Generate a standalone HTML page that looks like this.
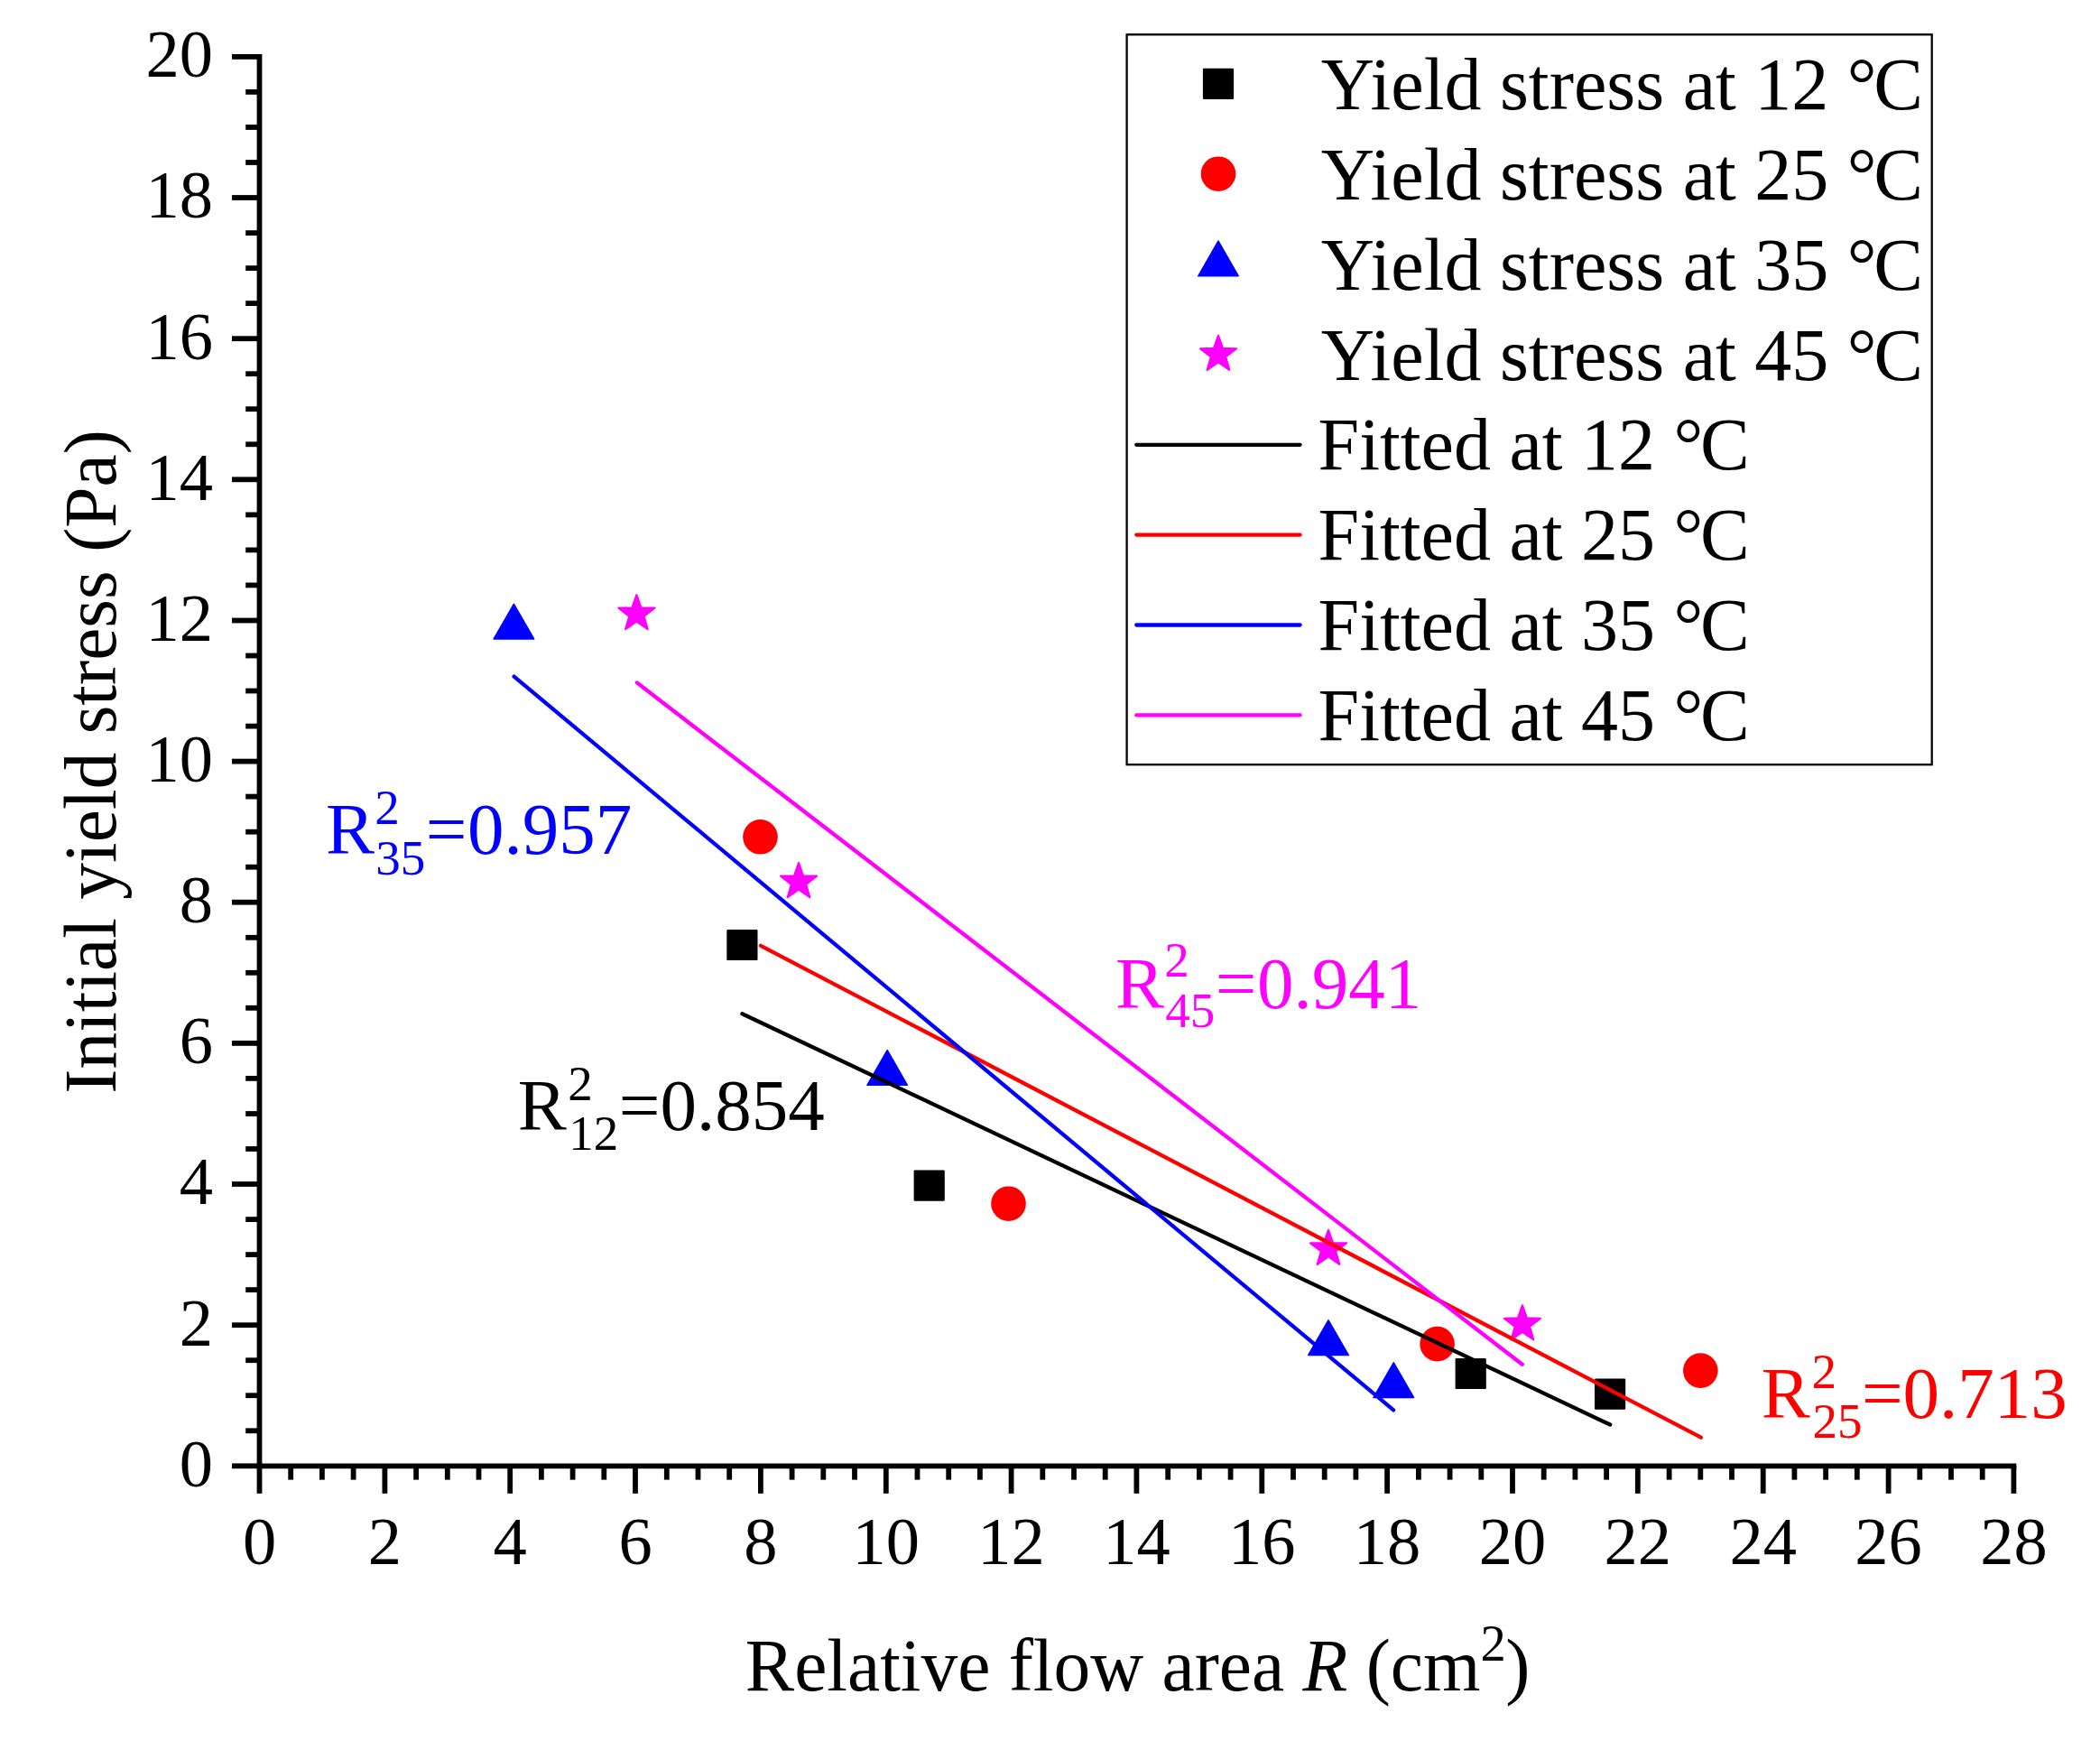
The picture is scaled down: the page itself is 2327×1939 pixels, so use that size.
<!DOCTYPE html><html><head><meta charset="utf-8"><title>Yield stress vs relative flow area</title>
<style>html,body{margin:0;padding:0;background:#fff}svg{display:block}text{font-family:"Liberation Serif",serif}</style></head><body>
<svg width="2327" height="1939" viewBox="0 0 2327 1939">
<rect width="2327" height="1939" fill="#fff"/>
<g stroke="#000" stroke-width="5.8" fill="none">
<line x1="287.5" y1="60.0" x2="287.5" y2="1627.2"/>
<line x1="284.6" y1="1624.3" x2="2234.3" y2="1624.3"/>
<line x1="287.5" y1="1624.3" x2="287.5" y2="1654.8"/>
<line x1="322.2" y1="1624.3" x2="322.2" y2="1639.6"/>
<line x1="356.9" y1="1624.3" x2="356.9" y2="1639.6"/>
<line x1="391.6" y1="1624.3" x2="391.6" y2="1639.6"/>
<line x1="426.4" y1="1624.3" x2="426.4" y2="1654.8"/>
<line x1="461.1" y1="1624.3" x2="461.1" y2="1639.6"/>
<line x1="495.8" y1="1624.3" x2="495.8" y2="1639.6"/>
<line x1="530.5" y1="1624.3" x2="530.5" y2="1639.6"/>
<line x1="565.2" y1="1624.3" x2="565.2" y2="1654.8"/>
<line x1="599.9" y1="1624.3" x2="599.9" y2="1639.6"/>
<line x1="634.6" y1="1624.3" x2="634.6" y2="1639.6"/>
<line x1="669.3" y1="1624.3" x2="669.3" y2="1639.6"/>
<line x1="704.0" y1="1624.3" x2="704.0" y2="1654.8"/>
<line x1="738.8" y1="1624.3" x2="738.8" y2="1639.6"/>
<line x1="773.5" y1="1624.3" x2="773.5" y2="1639.6"/>
<line x1="808.2" y1="1624.3" x2="808.2" y2="1639.6"/>
<line x1="842.9" y1="1624.3" x2="842.9" y2="1654.8"/>
<line x1="877.6" y1="1624.3" x2="877.6" y2="1639.6"/>
<line x1="912.3" y1="1624.3" x2="912.3" y2="1639.6"/>
<line x1="947.0" y1="1624.3" x2="947.0" y2="1639.6"/>
<line x1="981.8" y1="1624.3" x2="981.8" y2="1654.8"/>
<line x1="1016.5" y1="1624.3" x2="1016.5" y2="1639.6"/>
<line x1="1051.2" y1="1624.3" x2="1051.2" y2="1639.6"/>
<line x1="1085.9" y1="1624.3" x2="1085.9" y2="1639.6"/>
<line x1="1120.6" y1="1624.3" x2="1120.6" y2="1654.8"/>
<line x1="1155.3" y1="1624.3" x2="1155.3" y2="1639.6"/>
<line x1="1190.0" y1="1624.3" x2="1190.0" y2="1639.6"/>
<line x1="1224.7" y1="1624.3" x2="1224.7" y2="1639.6"/>
<line x1="1259.4" y1="1624.3" x2="1259.4" y2="1654.8"/>
<line x1="1294.2" y1="1624.3" x2="1294.2" y2="1639.6"/>
<line x1="1328.9" y1="1624.3" x2="1328.9" y2="1639.6"/>
<line x1="1363.6" y1="1624.3" x2="1363.6" y2="1639.6"/>
<line x1="1398.3" y1="1624.3" x2="1398.3" y2="1654.8"/>
<line x1="1433.0" y1="1624.3" x2="1433.0" y2="1639.6"/>
<line x1="1467.7" y1="1624.3" x2="1467.7" y2="1639.6"/>
<line x1="1502.4" y1="1624.3" x2="1502.4" y2="1639.6"/>
<line x1="1537.1" y1="1624.3" x2="1537.1" y2="1654.8"/>
<line x1="1571.9" y1="1624.3" x2="1571.9" y2="1639.6"/>
<line x1="1606.6" y1="1624.3" x2="1606.6" y2="1639.6"/>
<line x1="1641.3" y1="1624.3" x2="1641.3" y2="1639.6"/>
<line x1="1676.0" y1="1624.3" x2="1676.0" y2="1654.8"/>
<line x1="1710.7" y1="1624.3" x2="1710.7" y2="1639.6"/>
<line x1="1745.4" y1="1624.3" x2="1745.4" y2="1639.6"/>
<line x1="1780.1" y1="1624.3" x2="1780.1" y2="1639.6"/>
<line x1="1814.8" y1="1624.3" x2="1814.8" y2="1654.8"/>
<line x1="1849.6" y1="1624.3" x2="1849.6" y2="1639.6"/>
<line x1="1884.3" y1="1624.3" x2="1884.3" y2="1639.6"/>
<line x1="1919.0" y1="1624.3" x2="1919.0" y2="1639.6"/>
<line x1="1953.7" y1="1624.3" x2="1953.7" y2="1654.8"/>
<line x1="1988.4" y1="1624.3" x2="1988.4" y2="1639.6"/>
<line x1="2023.1" y1="1624.3" x2="2023.1" y2="1639.6"/>
<line x1="2057.8" y1="1624.3" x2="2057.8" y2="1639.6"/>
<line x1="2092.6" y1="1624.3" x2="2092.6" y2="1654.8"/>
<line x1="2127.3" y1="1624.3" x2="2127.3" y2="1639.6"/>
<line x1="2162.0" y1="1624.3" x2="2162.0" y2="1639.6"/>
<line x1="2196.7" y1="1624.3" x2="2196.7" y2="1639.6"/>
<line x1="2231.4" y1="1624.3" x2="2231.4" y2="1654.8"/>
<line x1="287.5" y1="1624.3" x2="257.0" y2="1624.3"/>
<line x1="287.5" y1="1585.3" x2="272.2" y2="1585.3"/>
<line x1="287.5" y1="1546.2" x2="272.2" y2="1546.2"/>
<line x1="287.5" y1="1507.2" x2="272.2" y2="1507.2"/>
<line x1="287.5" y1="1468.2" x2="257.0" y2="1468.2"/>
<line x1="287.5" y1="1429.1" x2="272.2" y2="1429.1"/>
<line x1="287.5" y1="1390.1" x2="272.2" y2="1390.1"/>
<line x1="287.5" y1="1351.1" x2="272.2" y2="1351.1"/>
<line x1="287.5" y1="1312.0" x2="257.0" y2="1312.0"/>
<line x1="287.5" y1="1273.0" x2="272.2" y2="1273.0"/>
<line x1="287.5" y1="1234.0" x2="272.2" y2="1234.0"/>
<line x1="287.5" y1="1194.9" x2="272.2" y2="1194.9"/>
<line x1="287.5" y1="1155.9" x2="257.0" y2="1155.9"/>
<line x1="287.5" y1="1116.8" x2="272.2" y2="1116.8"/>
<line x1="287.5" y1="1077.8" x2="272.2" y2="1077.8"/>
<line x1="287.5" y1="1038.8" x2="272.2" y2="1038.8"/>
<line x1="287.5" y1="999.7" x2="257.0" y2="999.7"/>
<line x1="287.5" y1="960.7" x2="272.2" y2="960.7"/>
<line x1="287.5" y1="921.7" x2="272.2" y2="921.7"/>
<line x1="287.5" y1="882.6" x2="272.2" y2="882.6"/>
<line x1="287.5" y1="843.6" x2="257.0" y2="843.6"/>
<line x1="287.5" y1="804.6" x2="272.2" y2="804.6"/>
<line x1="287.5" y1="765.5" x2="272.2" y2="765.5"/>
<line x1="287.5" y1="726.5" x2="272.2" y2="726.5"/>
<line x1="287.5" y1="687.5" x2="257.0" y2="687.5"/>
<line x1="287.5" y1="648.4" x2="272.2" y2="648.4"/>
<line x1="287.5" y1="609.4" x2="272.2" y2="609.4"/>
<line x1="287.5" y1="570.4" x2="272.2" y2="570.4"/>
<line x1="287.5" y1="531.3" x2="257.0" y2="531.3"/>
<line x1="287.5" y1="492.3" x2="272.2" y2="492.3"/>
<line x1="287.5" y1="453.2" x2="272.2" y2="453.2"/>
<line x1="287.5" y1="414.2" x2="272.2" y2="414.2"/>
<line x1="287.5" y1="375.2" x2="257.0" y2="375.2"/>
<line x1="287.5" y1="336.1" x2="272.2" y2="336.1"/>
<line x1="287.5" y1="297.1" x2="272.2" y2="297.1"/>
<line x1="287.5" y1="258.1" x2="272.2" y2="258.1"/>
<line x1="287.5" y1="219.0" x2="257.0" y2="219.0"/>
<line x1="287.5" y1="180.0" x2="272.2" y2="180.0"/>
<line x1="287.5" y1="141.0" x2="272.2" y2="141.0"/>
<line x1="287.5" y1="101.9" x2="272.2" y2="101.9"/>
<line x1="287.5" y1="62.9" x2="257.0" y2="62.9"/>
</g>
<g font-size="74.5" fill="#000">
<text x="287.5" y="1732.7" text-anchor="middle">0</text>
<text x="426.4" y="1732.7" text-anchor="middle">2</text>
<text x="565.2" y="1732.7" text-anchor="middle">4</text>
<text x="704.0" y="1732.7" text-anchor="middle">6</text>
<text x="842.9" y="1732.7" text-anchor="middle">8</text>
<text x="981.8" y="1732.7" text-anchor="middle">10</text>
<text x="1120.6" y="1732.7" text-anchor="middle">12</text>
<text x="1259.4" y="1732.7" text-anchor="middle">14</text>
<text x="1398.3" y="1732.7" text-anchor="middle">16</text>
<text x="1537.1" y="1732.7" text-anchor="middle">18</text>
<text x="1676.0" y="1732.7" text-anchor="middle">20</text>
<text x="1814.8" y="1732.7" text-anchor="middle">22</text>
<text x="1953.7" y="1732.7" text-anchor="middle">24</text>
<text x="2092.6" y="1732.7" text-anchor="middle">26</text>
<text x="2231.4" y="1732.7" text-anchor="middle">28</text>
<text x="236" y="1646.7" text-anchor="end">0</text>
<text x="236" y="1490.6" text-anchor="end">2</text>
<text x="236" y="1334.4" text-anchor="end">4</text>
<text x="236" y="1178.3" text-anchor="end">6</text>
<text x="236" y="1022.1" text-anchor="end">8</text>
<text x="236" y="866.0" text-anchor="end">10</text>
<text x="236" y="709.9" text-anchor="end">12</text>
<text x="236" y="553.7" text-anchor="end">14</text>
<text x="236" y="397.6" text-anchor="end">16</text>
<text x="236" y="241.4" text-anchor="end">18</text>
<text x="236" y="85.3" text-anchor="end">20</text>
</g>
<text x="825.8" y="1873.2" font-size="81.5" fill="#000">Relative flow area <tspan font-style="italic">R</tspan> (cm<tspan font-size="56.5" dy="-33.3">2</tspan><tspan dx="-0.5" dy="33.3">)</tspan></text>
<text transform="translate(127.9 1211.7) rotate(-90)" font-size="81.5" fill="#000">Initial yield stress (Pa)</text>
<g>
<rect x="805.3" y="1029.9" width="34.2" height="34.2" rx="1.2" fill="#000"/>
<rect x="1012.6" y="1296.6" width="34.2" height="34.2" rx="1.2" fill="#000"/>
<rect x="1612.6" y="1504.9" width="34.2" height="34.2" rx="1.2" fill="#000"/>
<rect x="1767.0" y="1527.5" width="34.2" height="34.2" rx="1.2" fill="#000"/>
<circle cx="842.5" cy="927.3" r="19.3" fill="#f00"/>
<circle cx="1117.5" cy="1333.7" r="19.3" fill="#f00"/>
<circle cx="1592.6" cy="1489.1" r="19.3" fill="#f00"/>
<circle cx="1884.3" cy="1518.6" r="19.3" fill="#f00"/>
<polygon points="569.4,669.4 547.2,708.0 591.6,708.0" fill="#00f" stroke="#00f" stroke-width="1.6" stroke-linejoin="round"/>
<polygon points="983.2,1163.7 961.0,1202.3 1005.4,1202.3" fill="#00f" stroke="#00f" stroke-width="1.6" stroke-linejoin="round"/>
<polygon points="1472.0,1462.8 1449.8,1501.4 1494.2,1501.4" fill="#00f" stroke="#00f" stroke-width="1.6" stroke-linejoin="round"/>
<polygon points="1544.3,1509.9 1522.1,1548.5 1566.5,1548.5" fill="#00f" stroke="#00f" stroke-width="1.6" stroke-linejoin="round"/>
<polygon points="705.4,659.2 710.4,673.3 725.4,673.7 713.5,682.8 717.7,697.2 705.4,688.7 693.1,697.2 697.3,682.8 685.4,673.7 700.4,673.3" fill="#f0f" stroke="#f0f" stroke-width="2.2" stroke-linejoin="round"/>
<polygon points="885.0,956.2 890.0,970.3 905.0,970.7 893.1,979.8 897.3,994.2 885.0,985.7 872.7,994.2 876.9,979.8 865.0,970.7 880.0,970.3" fill="#f0f" stroke="#f0f" stroke-width="2.2" stroke-linejoin="round"/>
<polygon points="1472.0,1362.9 1477.0,1377.0 1492.0,1377.4 1480.1,1386.5 1484.3,1400.9 1472.0,1392.4 1459.7,1400.9 1463.9,1386.5 1452.0,1377.4 1467.0,1377.0" fill="#f0f" stroke="#f0f" stroke-width="2.2" stroke-linejoin="round"/>
<polygon points="1686.9,1446.3 1691.9,1460.4 1706.9,1460.8 1695.0,1469.9 1699.2,1484.3 1686.9,1475.8 1674.6,1484.3 1678.8,1469.9 1666.9,1460.8 1681.9,1460.4" fill="#f0f" stroke="#f0f" stroke-width="2.2" stroke-linejoin="round"/>
</g>
<g stroke-width="4.3" stroke-linecap="round" fill="none">
<line x1="822.4" y1="1123.3" x2="1784.2" y2="1578.5" stroke="#000"/>
<line x1="843.0" y1="1047.8" x2="1884.8" y2="1592.7" stroke="#f00"/>
<line x1="569.6" y1="749.6" x2="1544.1" y2="1562.3" stroke="#00f"/>
<line x1="705.8" y1="756.4" x2="1686.8" y2="1511.7" stroke="#f0f"/>
</g>
<text x="361.1" y="945.9" font-size="81" fill="#00f">R<tspan font-size="55" dx="0" dy="-33.4">2</tspan><tspan font-size="55" dx="-26.5" dy="56.1">35</tspan><tspan dx="0.5" dy="-22.7">=</tspan><tspan dx="0.6">0.957</tspan></text>
<text x="1236.1" y="1117.1" font-size="81" fill="#f0f">R<tspan font-size="55" dx="0" dy="-34.8">2</tspan><tspan font-size="55" dx="-26.5" dy="56.0">45</tspan><tspan dx="0.5" dy="-21.2">=</tspan><tspan dx="0.6">0.941</tspan></text>
<text x="573.7" y="1252.3" font-size="81" fill="#000">R<tspan font-size="55" dx="1.5" dy="-33.4">2</tspan><tspan font-size="55" dx="-26.5" dy="55.2">12</tspan><tspan dx="0.5" dy="-21.8">=</tspan><tspan dx="0.1">0.854</tspan></text>
<text x="1951.8" y="1571.2" font-size="81" fill="#f00">R<tspan font-size="55" dx="1.6" dy="-33.6">2</tspan><tspan font-size="55" dx="-26.5" dy="54.9">25</tspan><tspan dx="-0.5" dy="-21.3">=</tspan><tspan dx="0">0.713</tspan></text>
<rect x="1248.6" y="38.3" width="892.1" height="808.9" fill="#fff" stroke="#000" stroke-width="2.3"/>
<rect x="1332.9" y="75.7" width="34.2" height="34.2" rx="1.2" fill="#000"/>
<circle cx="1350.0" cy="192.7" r="19.3" fill="#f00"/>
<polygon points="1350.0,267.2 1327.8,305.8 1372.2,305.8" fill="#00f" stroke="#00f" stroke-width="1.6" stroke-linejoin="round"/>
<polygon points="1350.0,371.8 1355.0,385.9 1370.0,386.3 1358.1,395.4 1362.3,409.8 1350.0,401.3 1337.7,409.8 1341.9,395.4 1330.0,386.3 1345.0,385.9" fill="#f0f" stroke="#f0f" stroke-width="2.2" stroke-linejoin="round"/>
<g font-size="82" fill="#000">
<text x="1463.8" y="121.4">Yield stress at 12 °<tspan dx="-3.5">C</tspan></text>
<text x="1463.8" y="221.1">Yield stress at 25 °<tspan dx="-3.5">C</tspan></text>
<text x="1463.8" y="320.9">Yield stress at 35 °<tspan dx="-3.5">C</tspan></text>
<text x="1463.8" y="420.6">Yield stress at 45 °<tspan dx="-3.5">C</tspan></text>
<text x="1460.6" y="520.4">Fitted at 12 °<tspan dx="-3.5">C</tspan></text>
<text x="1460.6" y="620.1">Fitted at 25 °<tspan dx="-3.5">C</tspan></text>
<text x="1460.6" y="719.8">Fitted at 35 °<tspan dx="-3.5">C</tspan></text>
<text x="1460.6" y="819.6">Fitted at 45 °<tspan dx="-3.5">C</tspan></text>
</g>
<g stroke-width="4.3" stroke-linecap="round">
<line x1="1259.3" y1="492.8" x2="1440.6" y2="492.8" stroke="#000"/>
<line x1="1259.3" y1="592.6" x2="1440.6" y2="592.6" stroke="#f00"/>
<line x1="1259.3" y1="692.5" x2="1440.6" y2="692.5" stroke="#00f"/>
<line x1="1259.3" y1="792.4" x2="1440.6" y2="792.4" stroke="#f0f"/>
</g>
</svg></body></html>
